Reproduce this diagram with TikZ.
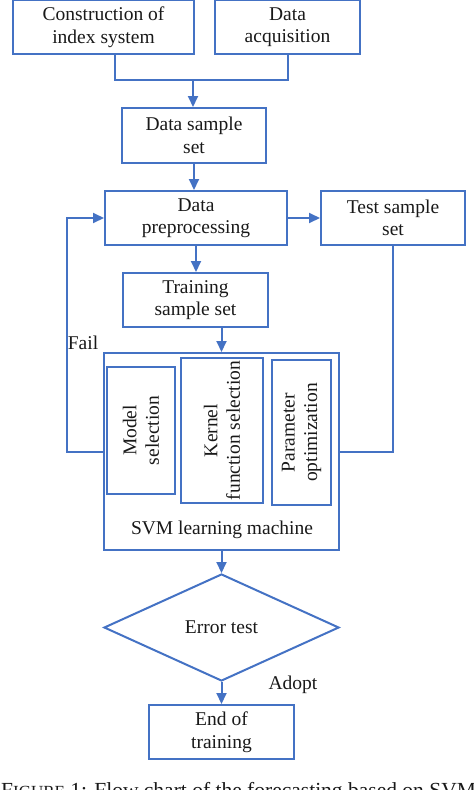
\documentclass[tikz,border=0pt]{standalone}
\usepackage{fontspec}
\setmainfont{Liberation Serif}
\usetikzlibrary{arrows.meta,shapes.geometric}
\definecolor{flowblue}{RGB}{68,114,196}
\begin{document}
\begin{tikzpicture}[x=1pt, y=-1pt, >={Triangle[length=11pt,width=10pt]},
    box/.style={draw=flowblue, line width=2pt, align=center, inner sep=0pt, text=black!90, font=\fontsize{19.5}{22.5}\selectfont},
    lbl/.style={inner sep=0pt, text=black!90, font=\fontsize{19.5}{22.5}\selectfont},
    line/.style={color=flowblue, line width=2pt}]
  \path[use as bounding box, clip] (0,0) rectangle (474,790);
  \node[box, minimum width=181pt, minimum height=54pt] (construct) at (103.5,27) {Construction of\\index system};
  \node[box, minimum width=145pt, minimum height=54pt] (acquire) at (287.5,27) {Data\\acquisition};
  \node[box, minimum width=144pt, minimum height=55pt] (sample) at (194,135.5) {Data sample\\set};
  \node[box, minimum width=182pt, minimum height=54pt] (preproc) at (196,218) {Data\\preprocessing};
  \node[box, minimum width=144pt, minimum height=54pt] (testset) at (393,218) {Test sample\\set};
  \node[box, minimum width=145pt, minimum height=54pt] (train) at (195.5,300) {Training\\sample set};
  \node[box, minimum width=235pt, minimum height=197pt] (svm) at (221.5,451.5) {};
  \node[box, rotate=90, minimum width=127pt, minimum height=68pt] (model) at (141,430.5) {Model\\selection};
  \node[box, rotate=90, minimum width=145pt, minimum height=82pt] (kernel) at (222,430.5) {Kernel\\function selection};
  \node[box, rotate=90, minimum width=145pt, minimum height=59pt] (param) at (301.5,432.5) {Parameter\\optimization};
  \node[lbl] (svmname) at (222,530) {SVM learning machine};
  \node[box, diamond, minimum width=235pt, minimum height=107pt] (errtest) at (221.5,627.5) {Error test};
  \node[box, minimum width=145pt, minimum height=54pt] (finish) at (221.5,732) {End of\\training};
  \node[lbl] (fail) at (83,343) {Fail};
  \node[lbl] (adopt) at (293,685) {Adopt};
  \node[lbl, anchor=north west, font=\fontsize{21.5}{24}\selectfont] (caption) at (1,782)
    {F{\fontsize{17}{17}\selectfont IGURE} 1: Flow chart of the forecasting based on SVM};
  \coordinate (merge) at (193,80);
  \coordinate (failturn) at (67,451.5);
  \draw[line] ([xshift=11.5pt]construct.south) |- (merge) -| (acquire.south);
  \draw[line, ->] (merge) -- (merge |- sample.north);
  \draw[line, ->] (sample.south) -- (sample.south |- preproc.north);
  \draw[line, ->] (preproc.east) -- (testset.west);
  \draw[line, ->] (preproc.south) -- (preproc.south |- train.north);
  \draw[line, ->] (train.south -| svm.north) -- (svm.north);
  \draw[line, ->] (svm.west) -- (failturn) |- (preproc.west);
  \draw[line] (testset.south) |- (svm.east);
  \draw[line, ->] (svm.south) -- (errtest.north);
  \draw[line, ->] (errtest.south) -- (finish.north);
\end{tikzpicture}
\end{document}
